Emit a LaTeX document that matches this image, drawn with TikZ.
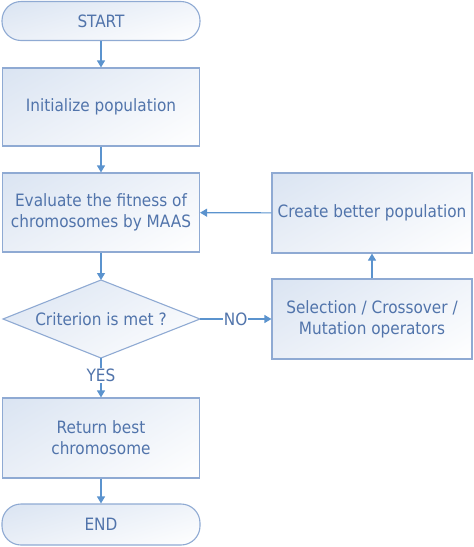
\documentclass[tikz,border=0pt]{standalone}
\usepackage{fontspec}
\setmainfont{DejaVu Sans Condensed}
\usetikzlibrary{arrows.meta,positioning,shadings}
\definecolor{linec}{HTML}{5B93CE}
\definecolor{boxc}{HTML}{8FAAD3}
\definecolor{txtc}{HTML}{5174AB}
\definecolor{gul}{HTML}{DAE4F2}
\definecolor{gur}{HTML}{F0F4FA}
\definecolor{gll}{HTML}{EAEFF7}
\tikzset{
  base/.style={draw=boxc, line width=1.1pt, text=txtc, align=center, inner sep=0pt,
    font=\fontsize{17}{21}\selectfont,
    upper left=gul, upper right=gur, lower left=gll, lower right=white},
  procbox/.style={base, rectangle, minimum width=197pt, minimum height=79pt},
  termbox/.style={base, rectangle, rounded corners=19pt, minimum width=198pt, minimum height=39pt},
  conn/.style={draw=linec, line width=1.1pt, -{Triangle[width=8pt,length=7pt]}},
  lbl/.style={text=txtc, fill=white, inner sep=1pt, font=\fontsize{17}{19}\selectfont}
}
\begin{document}
\begin{tikzpicture}[x=1pt,y=1pt]
\useasboundingbox (0,0) rectangle (474,-547);
\node[termbox] (start) at (101,-21) {START};
\node[procbox, minimum height=78pt] (init) at (101,-107) {Initialize population};
\node[procbox] (eval) at (101,-212.5) {Evaluate the fitness of\\chromosomes by MAAS};
\coordinate (dt) at (101,-280);
\coordinate (db) at (101,-358);
\coordinate (dl) at (3,-319);
\coordinate (dr) at (200,-319);
\path[base] (dt) -- (dr) -- (db) -- (dl) -- cycle;
\node[text=txtc, font=\fontsize{17}{21}\selectfont] (crit) at (101,-319) {Criterion is met ?};
\node[procbox, minimum height=80pt] (ret) at (101,-438) {Return best\\chromosome};
\node[termbox, minimum height=41pt] (end) at (101,-524.5) {END};
\node[procbox, minimum width=200pt, minimum height=80pt] (create) at (372,-213) {Create better population};
\node[procbox, minimum width=200pt, minimum height=80pt] (sel) at (372,-319) {Selection / Crossover /\\Mutation operators};
\draw[conn] (start) -- (init);
\draw[conn] (init) -- (eval);
\draw[conn] (eval) -- (dt);
\draw[conn] (db) -- (ret) node[lbl, pos=0.45] (yes) {YES};
\draw[conn] (ret) -- (end);
\draw[conn] (dr) -- (sel) node[lbl, pos=0.5] (no) {NO};
\draw[conn] (sel) -- (create);
\draw[conn] (create) -- (eval);
\end{tikzpicture}
\end{document}
